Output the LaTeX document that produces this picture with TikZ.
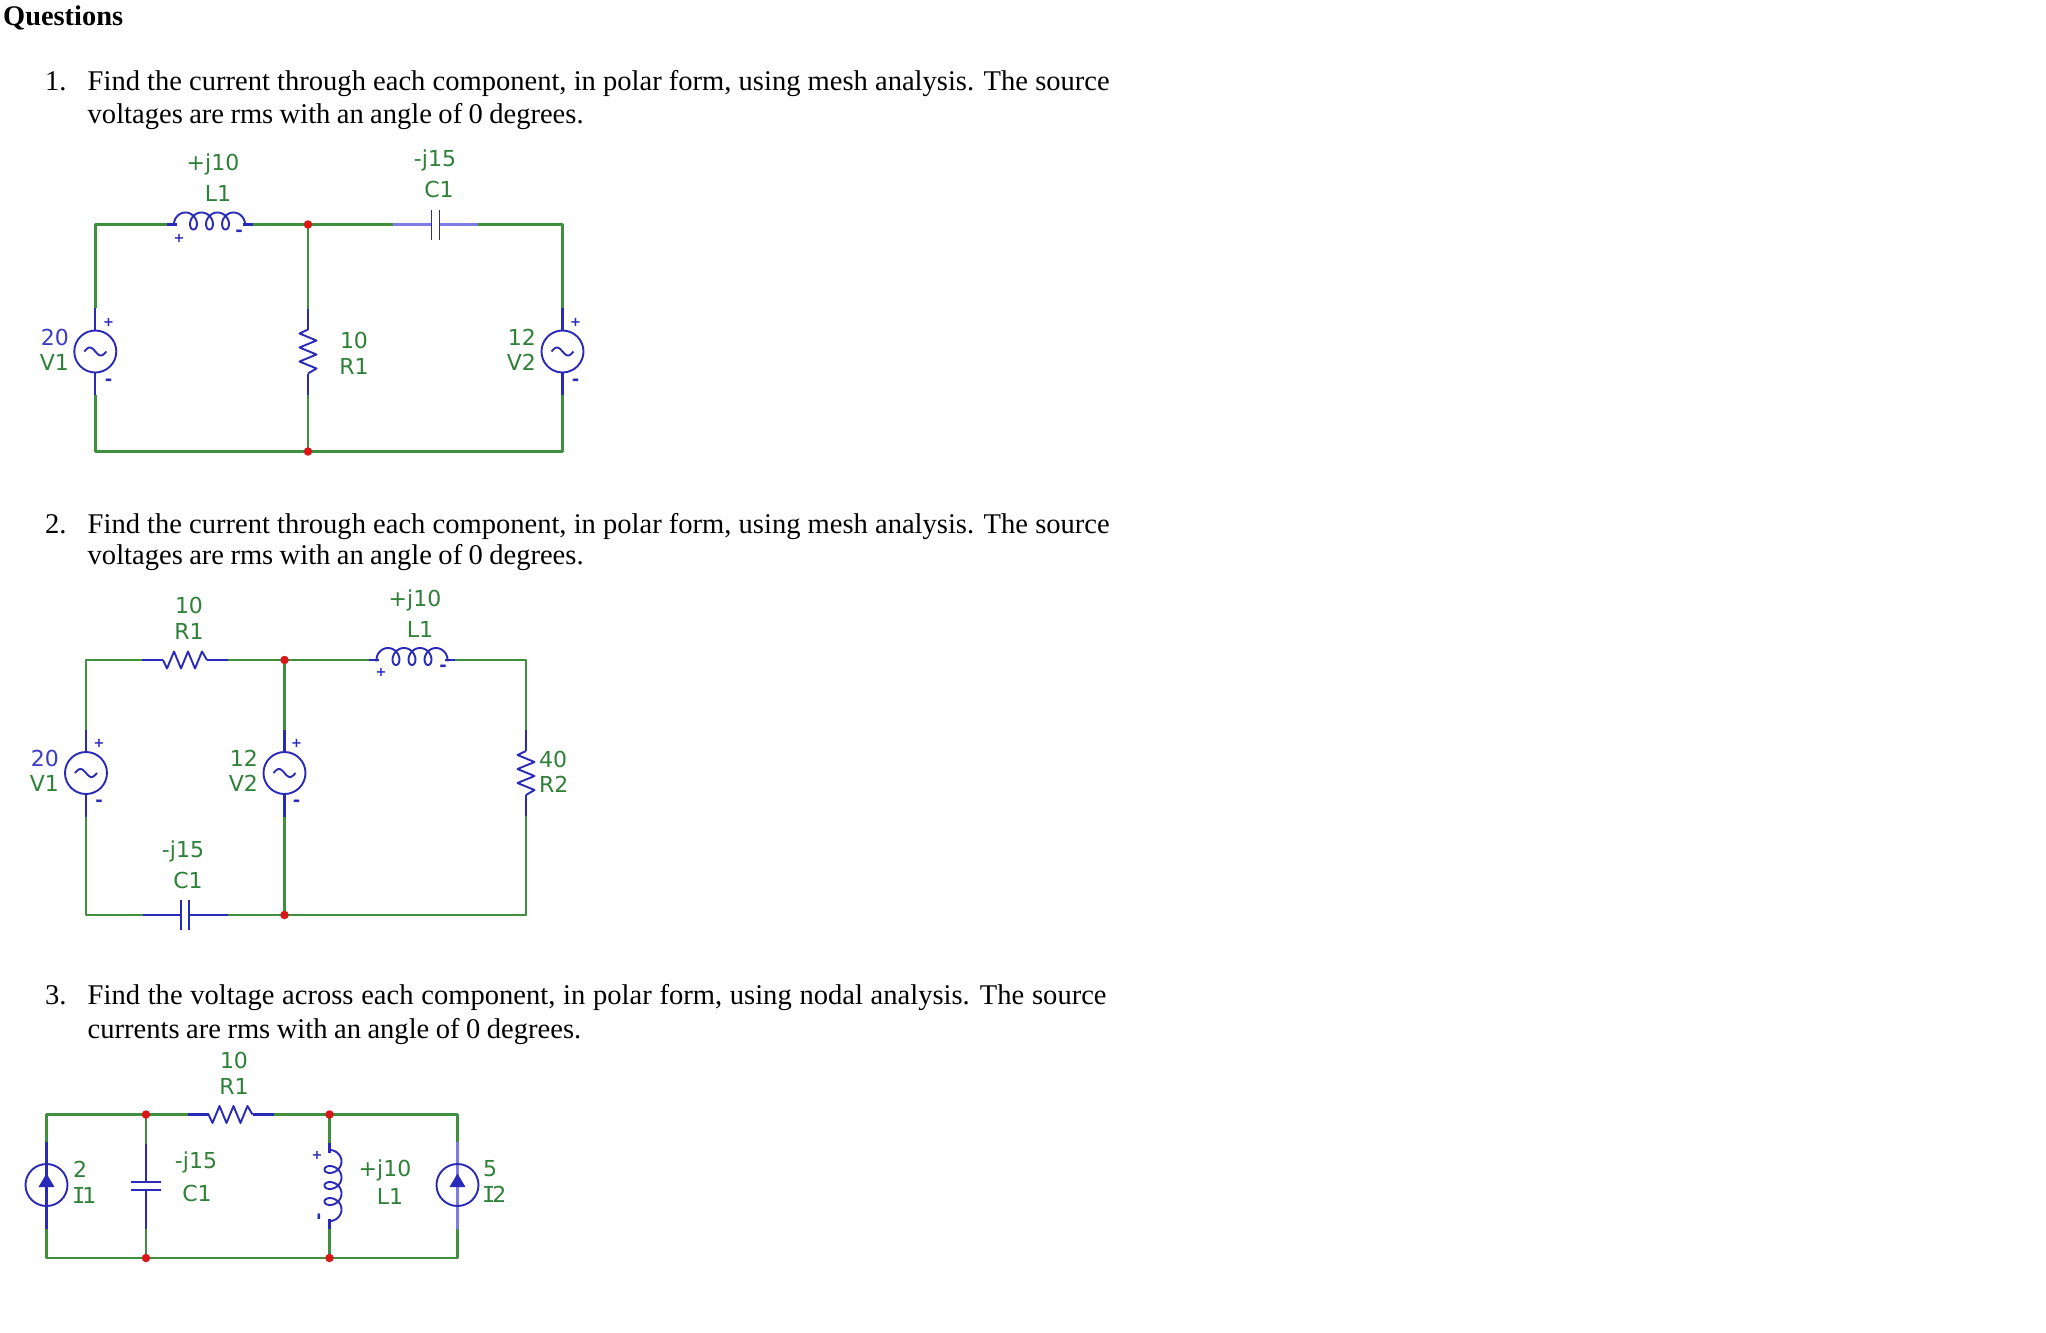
\documentclass[tikz,border=0pt]{standalone}
\usepackage{fontspec}
\setmainfont{Liberation Serif}
\newfontfamily\labfont{DejaVu Sans}
\newfontfamily\labmono{DejaVu Sans Mono}
\definecolor{wirecol}{HTML}{3F8F3F}
\definecolor{textgreen}{HTML}{2F8038}
\definecolor{leaddark}{HTML}{2A2AB8}
\definecolor{leadlight}{HTML}{7C7CE4}
\definecolor{labblue}{HTML}{3C3CC4}
\definecolor{dotred}{HTML}{D81818}
\tikzset{
  wire/.style={draw=wirecol,line width=2.4pt,line join=round},
  leadline/.style={draw=leaddark,line width=2.2pt},
  symline/.style={draw=leaddark,line width=1.9pt,line join=round},
  junction/.style={circle,fill=dotred,inner sep=0pt,minimum size=8.5pt},
  lab/.style={font=\labfont\fontsize{22}{24}\selectfont,text=textgreen,inner sep=0pt},
  labb/.style={lab,text=labblue},
  polar/.style={font=\labfont\bfseries\fontsize{13}{13}\selectfont,text=leaddark,inner sep=0pt},
  polarm/.style={polar,font=\labfont\bfseries\fontsize{18}{18}\selectfont},
  body/.style={font=\fontsize{28.55}{30}\selectfont,anchor=base west,inner sep=0pt,text=black},
  coilsym/.pic={
    \coordinate (-a) at (-43,0);
    \coordinate (-b) at (43,0);
    \draw[leadline] (-a) -- (-33,0) (33,0) -- (-b);
    \draw[symline] plot[smooth,domain=-125:1205,samples=150,variable=\t]
      ({2.55*(\t-540)/57.3+7*sin(\t)},{-3.5-8.5*cos(\t)});
  },
  ressym/.pic={
    \coordinate (-a) at (-43,0);
    \coordinate (-b) at (43,0);
    \draw[leadline] (-a) -- (-22,0) (22,0) -- (-b);
    \draw[symline] (-22,0) -- (-18,8.5) -- (-11,-8.5) -- (-4,8.5) -- (3,-8.5) -- (10,8.5) -- (17,-8.5) -- (22,0);
  },
  capsym/.pic={
    \coordinate (-a) at (-42.5,0);
    \coordinate (-b) at (42.5,0);
    \draw[leadline] (-a) -- (-4,0) (4,0) -- (-b);
    \draw[symline] (-4,-15) -- (-4,15) (4,-15) -- (4,15);
  },
  vsrcsym/.pic={
    \coordinate (-a) at (0,-43.5);
    \coordinate (-b) at (0,43.5);
    \draw[leadline] (-a) -- (0,-21) (0,21) -- (-b);
    \draw[symline] (0,0) circle[radius=21pt];
    \draw[symline] plot[smooth,domain=-11:11,samples=25,variable=\u] ({\u},{4*sin(16.36*\u)});
  },
  isrcsym/.pic={
    \coordinate (-a) at (0,-43.5);
    \coordinate (-b) at (0,43.5);
    \draw[leadline] (-a) -- (-b);
    \draw[symline] (0,0) circle[radius=21pt];
    \fill[leaddark] (0,-11.5) -- (8,2) -- (-8,2) -- cycle;
  }
}
\begin{document}
\begin{tikzpicture}[x=1pt,y=-1pt]
\useasboundingbox (0,0) rectangle (2046,1333);
\fill[white] (0,0) rectangle (2046,1333);

% ---- text
\node[body,font=\bfseries\fontsize{28.4}{30}\selectfont] (qhead) at (3,25) {Questions};
\node[body] (n1) at (45,90) {1.};
\node[body] (q1a) at (87.5,90) {Find the current through each component, in polar form, using mesh analysis. The source};
\node[body] (q1b) at (87.5,123) {\spaceskip=6.4pt voltages are rms with an angle of 0 degrees.};
\node[body] (n2) at (45,533) {2.};
\node[body] (q2a) at (87.5,533) {Find the current through each component, in polar form, using mesh analysis. The source};
\node[body] (q2b) at (87.5,564) {\spaceskip=6.4pt voltages are rms with an angle of 0 degrees.};
\node[body] (n3) at (45,1004) {3.};
\node[body] (q3a) at (87.5,1004) {\spaceskip=7.75pt Find the voltage across each component, in polar form, using nodal analysis. The source};
\node[body] (q3b) at (87.5,1038) {\spaceskip=6.5pt currents are rms with an angle of 0 degrees.};

% ---- circuit 1
\coordinate (atl) at (95.3,224.5);
\coordinate (atm) at (308,224.5);
\coordinate (atr) at (562.5,224.5);
\coordinate (abl) at (95.3,451.5);
\coordinate (abm) at (308,451.5);
\coordinate (abr) at (562.5,451.5);
\pic (aL) at (209.5,224.5) {coilsym};
\pic[leadline/.style={draw=leadlight,line width=2.4pt}] (aC) at (435.5,224.5) {capsym};
\pic[rotate=-90] (aR) at (308,351.5) {ressym};
\pic (aVa) at (95.3,351.5) {vsrcsym};
\pic (aVb) at (562.5,351.5) {vsrcsym};
\draw[wire] (aVa-a) -- (atl) -- (aL-a);
\draw[wire] (aL-b) -- (atm) -- (aC-a);
\draw[wire] (aC-b) -- (atr) -- (aVb-a);
\draw[wire] (aVa-b) -- (abl) -- (abm) -- (abr) -- (aVb-b);
\draw[wire] (atm) -- (aR-a);
\draw[wire] (aR-b) -- (abm);
\node[junction] (ajt) at (atm) {};
\node[junction] (ajb) at (abm) {};
\node[lab] (aLv) at (213,164) {+j10};
\node[lab] (aLn) at (218,193) {L1};
\node[lab] (aCv) at (435,160) {-j15};
\node[lab] (aCn) at (439,189) {C1};
\node[lab] (aRv) at (354,340) {10};
\node[lab] (aRn) at (354,366) {R1};
\node[labb,anchor=east] (aV1v) at (69,337) {20};
\node[lab,anchor=east] (aV1n) at (69,362) {V1};
\node[lab,anchor=east] (aV2v) at (536,337) {12};
\node[lab,anchor=east] (aV2n) at (536,362) {V2};
\node[polar] (ap1) at (179,238) {+};
\node[polarm] (am1) at (239,233) {-};
\node[polar] (ap2) at (108.5,322) {+};
\node[polarm] (am2) at (108.5,382) {-};
\node[polar] (ap3) at (575.5,322) {+};
\node[polarm] (am3) at (575.5,382) {-};

% ---- circuit 2
\coordinate (btl) at (86,660);
\coordinate (btm) at (284.5,660);
\coordinate (btr) at (526,660);
\coordinate (bbl) at (86,915);
\coordinate (bbm) at (284.5,915);
\coordinate (bbr) at (526,915);
\pic (bR) at (185,660) {ressym};
\pic (bL) at (412,660) {coilsym};
\pic (bC) at (185,915) {capsym};
\pic (bVa) at (86,773) {vsrcsym};
\pic (bVb) at (284.5,773) {vsrcsym};
\pic[rotate=-90] (bRb) at (526,773) {ressym};
\draw[wire] (bVa-a) -- (btl) -- (bR-a);
\draw[wire] (bR-b) -- (btm) -- (bL-a);
\draw[wire] (bL-b) -- (btr) -- (bRb-a);
\draw[wire] (bVa-b) -- (bbl) -- (bC-a);
\draw[wire] (bC-b) -- (bbm) -- (bbr) -- (bRb-b);
\draw[wire] (btm) -- (bVb-a);
\draw[wire] (bVb-b) -- (bbm);
\node[junction] (bjt) at (btm) {};
\node[junction] (bjb) at (bbm) {};
\node[lab] (bRv) at (189,605.5) {10};
\node[lab] (bRn) at (189,631.5) {R1};
\node[lab] (bLv) at (415,600) {+j10};
\node[lab] (bLn) at (420,629) {L1};
\node[lab] (bCv) at (183,851) {-j15};
\node[lab] (bCn) at (188,880) {C1};
\node[lab,anchor=west] (bR2v) at (539,759.5) {40};
\node[lab,anchor=west] (bR2n) at (539,784) {R2};
\node[labb,anchor=east] (bV1v) at (59,758) {20};
\node[lab,anchor=east] (bV1n) at (59,783) {V1};
\node[lab,anchor=east] (bV2v) at (258,758) {12};
\node[lab,anchor=east] (bV2n) at (258,783) {V2};
\node[polar] (bp1) at (381,672.5) {+};
\node[polarm] (bm1) at (443,668.5) {-};
\node[polar] (bp2) at (99,743) {+};
\node[polarm] (bm2) at (99,803) {-};
\node[polar] (bp3) at (296.5,743) {+};
\node[polarm] (bm3) at (296.5,803) {-};

% ---- circuit 3
\coordinate (ctl) at (46.5,1114.5);
\coordinate (ctm) at (146,1114.5);
\coordinate (ctn) at (329.5,1114.5);
\coordinate (ctr) at (457.5,1114.5);
\coordinate (cbl) at (46.5,1258);
\coordinate (cbm) at (146,1258);
\coordinate (cbn) at (329.5,1258);
\coordinate (cbr) at (457.5,1258);
\pic (cIa) at (46.5,1185) {isrcsym};
\pic[rotate=-90] (cC) at (146,1186) {capsym};
\pic (cR) at (230.5,1114.5) {ressym};
\pic[rotate=-90] (cL) at (329.5,1185.5) {coilsym};
\pic[leadline/.style={draw=leadlight,line width=2.4pt}] (cIb) at (457.5,1185) {isrcsym};
\draw[wire] (cIa-a) -- (ctl) -- (ctm) -- (cR-a);
\draw[wire] (cR-b) -- (ctn) -- (ctr) -- (cIb-a);
\draw[wire] (cIa-b) -- (cbl) -- (cbm) -- (cbn) -- (cbr) -- (cIb-b);
\draw[wire] (ctm) -- (cC-a);
\draw[wire] (cC-b) -- (cbm);
\draw[wire] (ctn) -- (cL-a);
\draw[wire] (cL-b) -- (cbn);
\node[junction] (cj1) at (ctm) {};
\node[junction] (cj2) at (ctn) {};
\node[junction] (cj3) at (cbm) {};
\node[junction] (cj4) at (cbn) {};
\node[lab] (cRv) at (234,1060) {10};
\node[lab] (cRn) at (234,1086) {R1};
\node[lab] (cCv) at (196,1162.5) {-j15};
\node[lab] (cCn) at (197,1193) {C1};
\node[lab] (cLv) at (385,1170) {+j10};
\node[lab] (cLn) at (390,1196) {L1};
\node[lab,anchor=west] (cI1v) at (73,1169) {2};
\node[lab,anchor=west] (cI1n) at (72,1195) {{\labmono I}\kern-3pt 1};
\node[lab,anchor=west] (cI2v) at (483,1169) {5};
\node[lab,anchor=west] (cI2n) at (482,1194) {{\labmono I}\kern-3pt 2};
\node[polar] (cp1) at (317,1155) {+};
\node[polarm,rotate=90] (cm1) at (321,1216.5) {-};
\end{tikzpicture}
\end{document}
